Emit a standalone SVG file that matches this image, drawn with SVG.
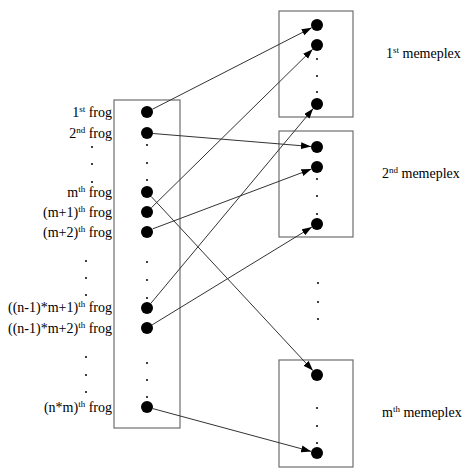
<svg xmlns="http://www.w3.org/2000/svg" width="474" height="474" viewBox="0 0 474 474">
<style>
.box{fill:none;stroke:#6e6e6e;stroke-width:1.2}
.dot{fill:#000}
.sd{fill:#000}
.lbl{font-size:14px;fill:#000}
.sup{font-size:9px}
.conn{stroke:#333;stroke-width:1;fill:none;marker-end:url(#ah)}
</style>
<defs>
<marker id="ah" markerUnits="userSpaceOnUse" markerWidth="11" markerHeight="8" refX="10" refY="3.5" orient="auto">
<path d="M0,0 L10,3.5 L0,7 z" fill="#000"/>
</marker>
</defs>
<rect width="474" height="474" fill="#fff"/>

<g id="frogs">
<rect class="box" x="114" y="100" width="66" height="328"/>
<circle class="dot" cx="147" cy="112" r="6"/>
<circle class="dot" cx="147" cy="133" r="6"/>
<circle class="sd" cx="147" cy="145" r="1"/>
<circle class="sd" cx="147" cy="163" r="1"/>
<circle class="sd" cx="147" cy="180" r="1"/>
<circle class="dot" cx="147" cy="192" r="6"/>
<circle class="dot" cx="147" cy="212" r="6"/>
<circle class="dot" cx="147" cy="232" r="6"/>
<circle class="sd" cx="147" cy="262" r="1"/>
<circle class="sd" cx="147" cy="280" r="1"/>
<circle class="sd" cx="147" cy="298" r="1"/>
<circle class="dot" cx="147" cy="308" r="6"/>
<circle class="dot" cx="147" cy="328" r="6"/>
<circle class="sd" cx="147" cy="363" r="1"/>
<circle class="sd" cx="147" cy="380" r="1"/>
<circle class="sd" cx="147" cy="397" r="1"/>
<circle class="dot" cx="147" cy="407" r="6"/>
</g>

<g id="frog-labels" font-family="'Liberation Serif', 'DejaVu Serif', serif">
<text class="lbl" x="112" y="117" text-anchor="end">1<tspan class="sup" dy="-5">st</tspan><tspan dy="5"> frog</tspan></text>
<text class="lbl" x="112" y="138" text-anchor="end">2<tspan class="sup" dy="-5">nd</tspan><tspan dy="5"> frog</tspan></text>
<circle class="sd" cx="92" cy="147" r="1"/>
<circle class="sd" cx="92" cy="164" r="1"/>
<circle class="sd" cx="92" cy="182" r="1"/>
<text class="lbl" x="112" y="197" text-anchor="end">m<tspan class="sup" dy="-5">th</tspan><tspan dy="5"> frog</tspan></text>
<text class="lbl" x="112" y="217" text-anchor="end">(m+1)<tspan class="sup" dy="-5">th</tspan><tspan dy="5"> frog</tspan></text>
<text class="lbl" x="112" y="237" text-anchor="end">(m+2)<tspan class="sup" dy="-5">th</tspan><tspan dy="5"> frog</tspan></text>
<circle class="sd" cx="86" cy="261" r="1"/>
<circle class="sd" cx="86" cy="278" r="1"/>
<circle class="sd" cx="86" cy="295" r="1"/>
<text class="lbl" x="112" y="312" text-anchor="end">((n-1)*m+1)<tspan class="sup" dy="-5">th</tspan><tspan dy="5"> frog</tspan></text>
<text class="lbl" x="112" y="333" text-anchor="end">((n-1)*m+2)<tspan class="sup" dy="-5">th</tspan><tspan dy="5"> frog</tspan></text>
<circle class="sd" cx="86" cy="357" r="1"/>
<circle class="sd" cx="86" cy="375" r="1"/>
<circle class="sd" cx="86" cy="392" r="1"/>
<text class="lbl" x="112" y="412" text-anchor="end">(n*m)<tspan class="sup" dy="-5">th</tspan><tspan dy="5"> frog</tspan></text>
</g>

<g id="memeplex1" font-family="'Liberation Serif', 'DejaVu Serif', serif">
<rect class="box" x="279" y="11" width="74" height="106"/>
<circle class="dot" cx="317" cy="25" r="6"/>
<circle class="dot" cx="317" cy="45" r="6"/>
<circle class="sd" cx="317" cy="59" r="1"/>
<circle class="sd" cx="317" cy="76" r="1"/>
<circle class="sd" cx="317" cy="92" r="1"/>
<circle class="dot" cx="317" cy="104" r="6"/>
<text class="lbl" x="386" y="58">1<tspan class="sup" dy="-5">st</tspan><tspan dy="5"> memeplex</tspan></text>
</g>

<g id="memeplex2" font-family="'Liberation Serif', 'DejaVu Serif', serif">
<rect class="box" x="279" y="131" width="74" height="106"/>
<circle class="dot" cx="317" cy="147" r="6"/>
<circle class="dot" cx="317" cy="167" r="6"/>
<circle class="sd" cx="317" cy="179" r="1"/>
<circle class="sd" cx="317" cy="196" r="1"/>
<circle class="sd" cx="317" cy="214" r="1"/>
<circle class="dot" cx="317" cy="224" r="6"/>
<text class="lbl" x="382" y="178">2<tspan class="sup" dy="-5">nd</tspan><tspan dy="5"> memeplex</tspan></text>
</g>

<g id="between-dots">
<circle class="sd" cx="318" cy="283" r="1"/>
<circle class="sd" cx="318" cy="302" r="1"/>
<circle class="sd" cx="318" cy="319" r="1"/>
</g>

<g id="memeplexm" font-family="'Liberation Serif', 'DejaVu Serif', serif">
<rect class="box" x="279" y="360" width="74" height="107"/>
<circle class="dot" cx="317" cy="375" r="6"/>
<circle class="sd" cx="317" cy="408" r="1"/>
<circle class="sd" cx="317" cy="426" r="1"/>
<circle class="sd" cx="317" cy="443" r="1"/>
<circle class="dot" cx="317" cy="453" r="6"/>
<text class="lbl" x="382" y="417">m<tspan class="sup" dy="-5">th</tspan><tspan dy="5"> memeplex</tspan></text>
</g>

<g id="connectors">
<line class="conn" x1="152.3" y1="109.3" x2="311.7" y2="27.7"/>
<line class="conn" x1="153" y1="133.5" x2="311" y2="146.5"/>
<line class="conn" x1="151.1" y1="196.4" x2="312.9" y2="370.6"/>
<line class="conn" x1="151.3" y1="207.8" x2="312.7" y2="49.2"/>
<line class="conn" x1="152.6" y1="228.9" x2="311.4" y2="169.1"/>
<line class="conn" x1="150.8" y1="303.4" x2="313.2" y2="108.6"/>
<line class="conn" x1="152.1" y1="324.9" x2="311.9" y2="227.1"/>
<line class="conn" x1="152.8" y1="408.6" x2="311.2" y2="451.4"/>
</g>
</svg>
